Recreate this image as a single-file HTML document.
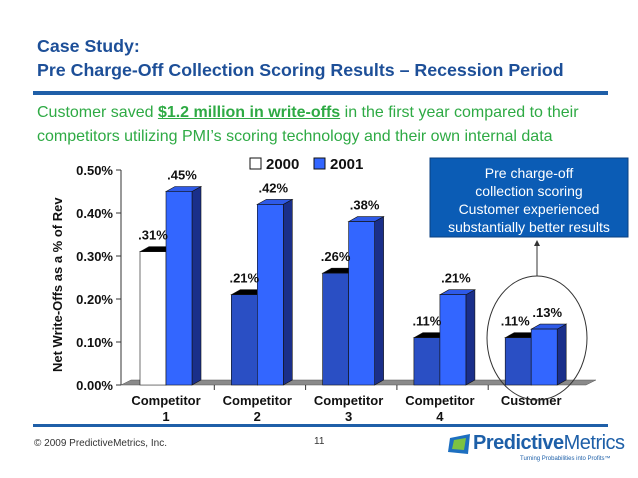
<!DOCTYPE html>
<html><head><meta charset="utf-8"><style>
body{margin:0;width:638px;height:478px;background:#fff;overflow:hidden;font-family:"Liberation Sans",Arial,sans-serif;position:relative}
.t{position:absolute;white-space:nowrap}
</style></head><body>
<div class="t" style="left:37px;top:34px;font-size:17.8px;font-weight:bold;color:#1d4f98;line-height:24px">Case Study:<br>Pre Charge-Off Collection Scoring Results – Recession Period</div>
<div style="position:absolute;left:33px;top:91px;width:575px;height:4px;background:#1f5fa8"></div>
<div class="t" style="left:37px;top:101px;font-size:16px;color:#2eaa44;line-height:24px">Customer saved <b style="text-decoration:underline">$1.2 million in write-offs</b> in the first year compared to their<br>competitors utilizing PMI’s scoring technology and their own internal data</div>
<svg id="c" width="638" height="478" style="position:absolute;left:0;top:0"></svg>
<div style="position:absolute;left:33px;top:424px;width:575px;height:3px;background:#1f5fa8"></div>
<div class="t" style="left:34px;top:438px;font-size:10px;color:#333">© 2009 PredictiveMetrics, Inc.</div>
<div class="t" style="left:314px;top:436px;font-size:10px;color:#333">11</div>
<div style="position:absolute;left:448px;top:432px;width:160px;height:34px">
<svg width="24" height="22" style="position:absolute;left:0;top:2px"><polygon points="2,4 22,0 20,20 0,18" fill="#1d6fc0"/><polygon points="6,6 18,4 16,16 4,15" fill="#7cc242"/></svg>
<span class="t" style="left:25px;top:0;font-size:20px;font-weight:bold;color:#1d5fa8;letter-spacing:-0.5px">Predictive<span style="font-weight:normal">Metrics</span></span>
<span class="t" style="left:72px;top:24px;font-size:6px;color:#1d5fa8">Turning Probabilities into Profits™</span>
</div>
<script>
const categories=["Competitor 1","Competitor 2","Competitor 3","Competitor 4","Customer"];
const v2000=[0.31,0.21,0.26,0.11,0.11];
const v2001=[0.45,0.42,0.38,0.21,0.13];
const lbl2000=[".31%",".21%",".26%",".11%",".11%"];
const lbl2001=[".45%",".42%",".38%",".21%",".13%"];
const yTicks=[0,0.1,0.2,0.3,0.4,0.5];
const yTickLabels=["0.00%","0.10%","0.20%","0.30%","0.40%","0.50%"];
const NS="http://www.w3.org/2000/svg";
const svg=document.getElementById('c');
const x0=121,y0=385,yTop=170,gx0=140,gw=91.3,bw=26,dx=9,dy=5;
const Y=v=>y0-(v/0.5)*(y0-yTop);
const GX=i=>gx0+i*gw;
function mk(t,a,txt){const e=document.createElementNS(NS,t);for(const k in a)e.setAttribute(k,a[k]);if(txt!=null)e.textContent=txt;svg.appendChild(e);return e;}
let f=mk('polygon',{points:`${x0},${y0} ${x0+465},${y0} ${x0+475},${y0-dy} ${x0+10},${y0-dy}`,fill:'#8a8a8a',stroke:'#555','stroke-width':0.5});


let ax=mk('line',{x1:x0,y1:yTop,x2:x0,y2:y0,stroke:'#333','stroke-width':1});


yTicks.forEach((t,i)=>{
 let l=mk('line',{x1:x0-5,y1:Y(t),x2:x0,y2:Y(t),stroke:'#333'});
 
 
 let tx=mk('text',{x:x0-8,y:Y(t)+5,'text-anchor':'end','font-size':13,'font-weight':'bold',fill:'#111'},yTickLabels[i]);
 
 
});
function bar(x,v,front,top,side,name){
 const y=Y(v);
 let g=document.createElementNS(NS,'g');svg.appendChild(g);
 
 
 const p=(pts,fill)=>{const e=document.createElementNS(NS,'polygon');e.setAttribute('points',pts);e.setAttribute('fill',fill);e.setAttribute('stroke','#111');e.setAttribute('stroke-width','0.6');g.appendChild(e);};
 p(`${x+bw},${y} ${x+bw+dx},${y-dy} ${x+bw+dx},${y0-dy} ${x+bw},${y0}`,side);
 p(`${x},${y} ${x+dx},${y-dy} ${x+bw+dx},${y-dy} ${x+bw},${y}`,top);
 p(`${x},${y} ${x+bw},${y} ${x+bw},${y0} ${x},${y0}`,front);
}
categories.forEach((c,i)=>{
 const gx=GX(i);
 bar(gx,v2000[i],i==0?'#ffffff':'#2a4fc4','#000','#1a2f8a','bar-2000-'+(i+1));
 bar(gx+bw,v2001[i],'#3366ff','#2e5ae8','#1a2f8a','bar-2001-'+(i+1));
 let a=mk('text',{x:gx+bw/2-(i==4?3:0),y:Y(v2000[i])-12,'text-anchor':'middle','font-size':13,'font-weight':'bold',fill:'#111'},lbl2000[i]);
 
 
 let b=mk('text',{x:gx+bw*1.5+3,y:Y(v2001[i])-12,'text-anchor':'middle','font-size':13,'font-weight':'bold',fill:'#111'},lbl2001[i]);
 
 
 const parts=c.split(' ');
 let l1=mk('text',{x:gx+bw,y:405,'text-anchor':'middle','font-size':13,'font-weight':'bold',fill:'#111'},parts[0]);
 
 
 if(parts[1]){let l2=mk('text',{x:gx+bw,y:421,'text-anchor':'middle','font-size':13,'font-weight':'bold',fill:'#111'},parts[1]);
 
 }
 if(i>0){let d=mk('line',{x1:gx-17,y1:y0,x2:gx-17,y2:y0+5,stroke:'#333'});
 
 }
});
let yt=mk('text',{x:0,y:0,transform:'translate(62,372) rotate(-90)','font-size':13,'font-weight':'bold',fill:'#111'},'Net Write-Offs as a % of Rev');


let ls1=mk('rect',{x:250,y:158,width:11,height:11,fill:'#fff',stroke:'#111'});


let lt1=mk('text',{x:266,y:169,'font-size':15,'font-weight':'bold',fill:'#111'},'2000');


let ls2=mk('rect',{x:314,y:158,width:11,height:11,fill:'#3366ff',stroke:'#111'});


let lt2=mk('text',{x:330,y:169,'font-size':15,'font-weight':'bold',fill:'#111'},'2001');


let cb=mk('rect',{x:430,y:158,width:198,height:79,fill:'#0b5cb5',stroke:'#0a3f80'});


["Pre charge-off","collection scoring","Customer experienced","substantially better results"].forEach((s,i)=>{
 let t=mk('text',{x:529,y:178+i*18,'text-anchor':'middle','font-size':14,fill:'#fff'},s);
 
 
});
let ar=mk('line',{x1:537,y1:276,x2:537,y2:245,stroke:'#333'});


let ah=mk('polygon',{points:'534,246 540,246 537,240',fill:'#333'});


let el=mk('ellipse',{cx:537,cy:338,rx:50,ry:62,fill:'none',stroke:'#333'});


</script>
</body></html>
